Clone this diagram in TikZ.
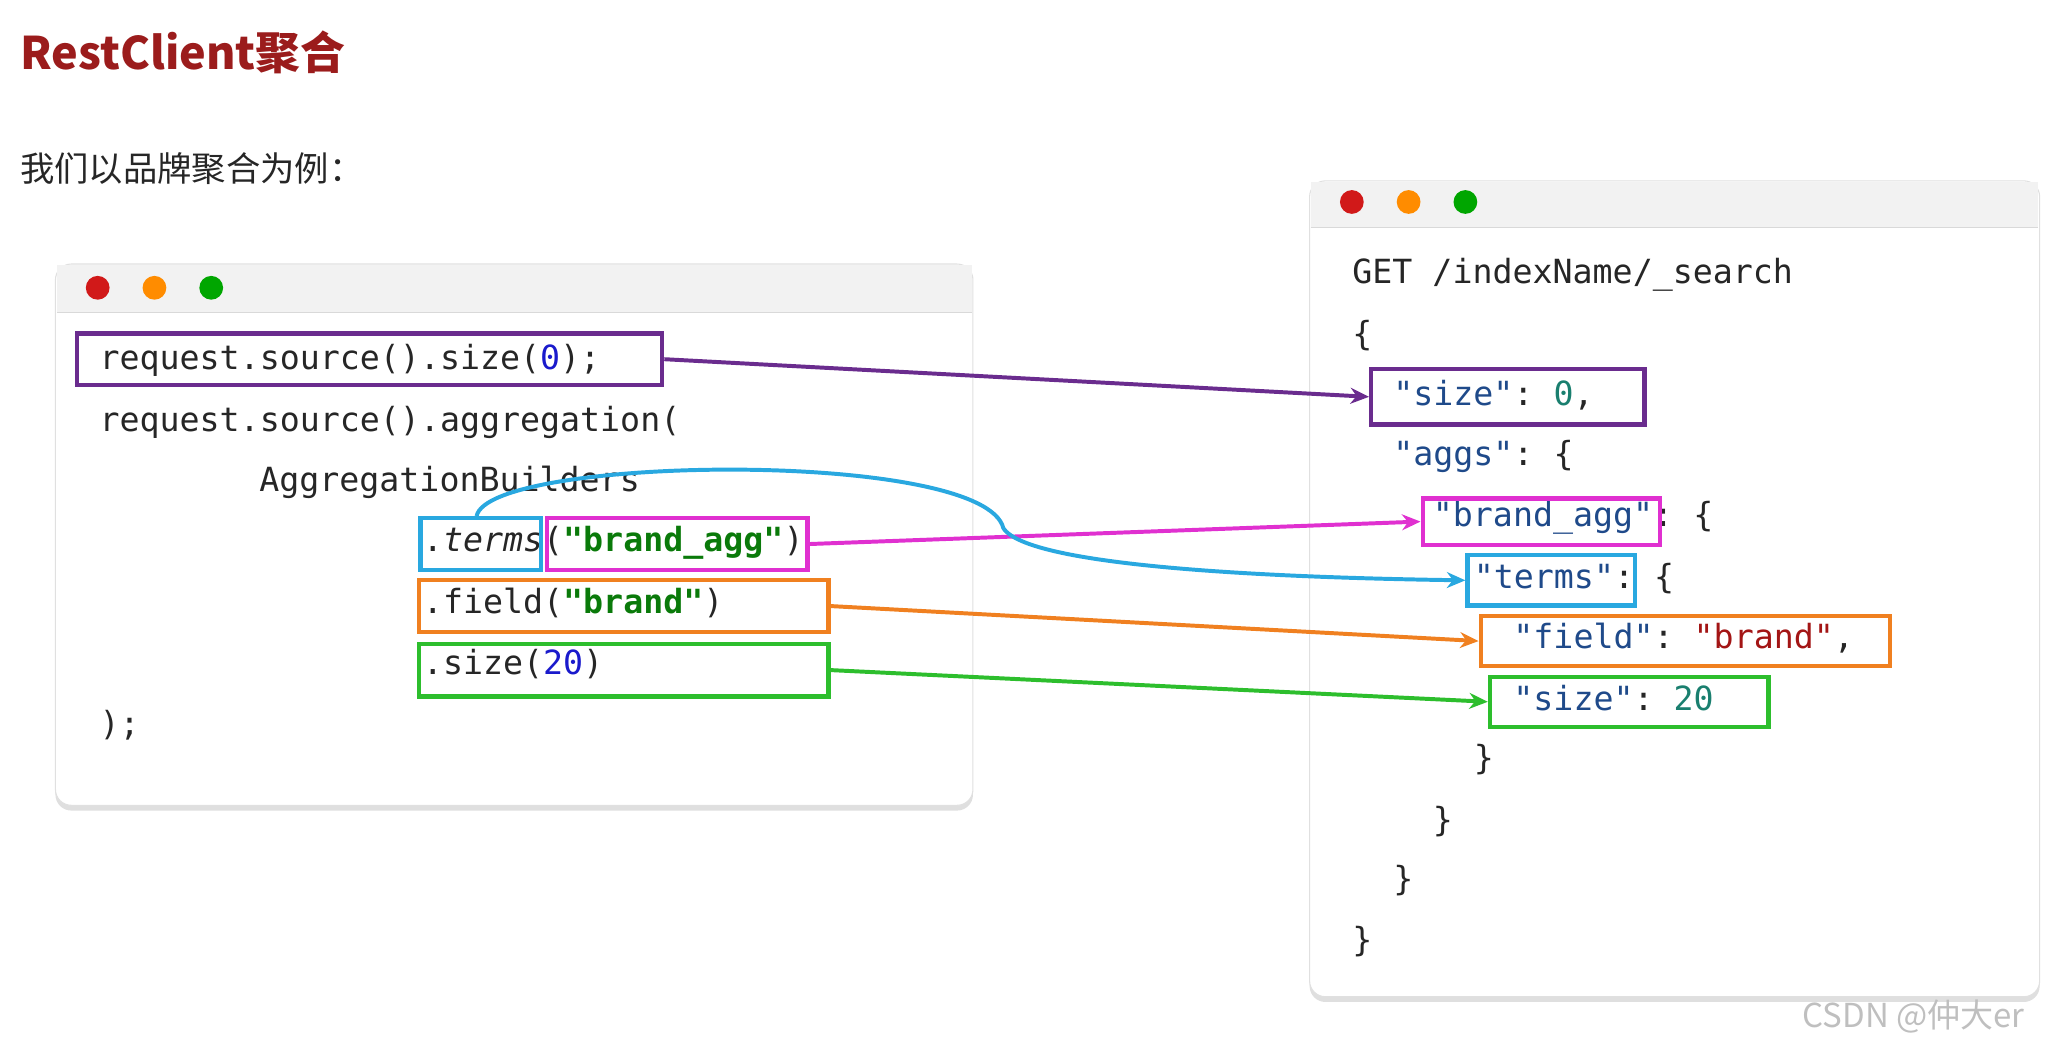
\documentclass[tikz,border=0pt]{standalone}
\usepackage{fontspec}
\setmainfont{Noto Sans CJK SC}
\newfontfamily\cjk{Noto Sans CJK SC}
\setmonofont{DejaVu Sans Mono}
\usetikzlibrary{shadows,arrows.meta}
\definecolor{cpur}{HTML}{6A2C8E}
\definecolor{ccya}{HTML}{29A8E0}
\definecolor{cmag}{HTML}{E030D0}
\definecolor{cora}{HTML}{F08020}
\definecolor{cgre}{HTML}{2DBE2D}
\definecolor{ctitle}{HTML}{9B1C1C}
\definecolor{ckey}{HTML}{1F4A8A}
\definecolor{cnum}{HTML}{1A7F6F}
\definecolor{cstr}{HTML}{A31515}
\definecolor{cgstr}{HTML}{0A7A0A}
\definecolor{cblue}{HTML}{1A1ACC}
\begin{document}
\begin{tikzpicture}[x=0.5pt,y=-0.5pt,
 code/.style={anchor=west,inner sep=0pt,font=\ttfamily\fontsize{12.6}{14}\selectfont,text=black!85},
 win/.style={draw=black!12,fill=white,rounded corners=6pt,drop shadow={opacity=0.25,shadow xshift=0pt,shadow yshift=-2pt}},
 bar/.style={fill=black!5,draw=none},
 hb/.style={draw=#1,line width=1.6pt},
 con/.style={draw=#1,line width=1.5pt,-{Stealth[length=7pt,width=6pt]}},
 dot/.style={circle,minimum size=9pt,inner sep=0pt,fill=#1}]
\useasboundingbox (0,0) rectangle (1568,795);
\node[anchor=west,inner sep=0pt,text=ctitle,font=\cjk\bfseries\fontsize{17}{20}\selectfont] (title) at (15,40) {RestClient聚合};
\node[anchor=west,inner sep=0pt,text=black!85,font=\cjk\fontsize{13}{16}\selectfont] (sub) at (15,128) {我们以品牌聚合为例：};
% left window
\path[win] (42,200) rectangle (737,610);
\path[bar] (43,201) -- (736,201) -- (736,237) -- (43,237) -- cycle;
\draw[black!15] (43,237) -- (736,237);
\node[dot=red!80!black!90] (l1) at (74,218) {};
\node[dot=orange!90!yellow] (l2) at (117,218) {};
\node[dot=green!65!black] (l3) at (160,218) {};
\node[code] (a1) at (75,273) {request.source().size(\textcolor{cblue}{0});};
\node[code] (a2) at (75,320) {request.source().aggregation(};
\node[code] (a3) at (196,365) {AggregationBuilders};
\node[code] (a4) at (320,411) {.\textit{terms}(\textcolor{cgstr}{\bfseries"brand\_agg"})};
\node[code] (a5) at (320,457) {.field(\textcolor{cgstr}{\bfseries"brand"})};
\node[code] (a6) at (320,503) {.size(\textcolor{cblue}{20})};
\node[code] (a7) at (75,549) {);};
% right window
\path[win] (992,137) rectangle (1545,755);
\path[bar] (993,138) -- (1544,138) -- (1544,172) -- (993,172) -- cycle;
\draw[black!15] (993,172) -- (1544,172);
\node[dot=red!80!black!90] (r1) at (1024,153) {};
\node[dot=orange!90!yellow] (r2) at (1067,153) {};
\node[dot=green!65!black] (r3) at (1110,153) {};
\node[code] (b1) at (1024,208) {GET /indexName/\_search};
\node[code] (b2) at (1024,254) {\{};
\node[code] (b3) at (1055,299) {\textcolor{ckey}{"size"}: \textcolor{cnum}{0},};
\node[code] (b4) at (1055,346) {\textcolor{ckey}{"aggs"}: \{};
\node[code] (b5) at (1085,392) {\textcolor{ckey}{"brand\_agg"}: \{};
\node[code] (b6) at (1116,438) {\textcolor{ckey}{"terms"}: \{};
\node[code] (b7) at (1146,483) {\textcolor{ckey}{"field"}: \textcolor{cstr}{"brand"},};
\node[code] (b8) at (1146,529) {\textcolor{ckey}{"size"}: \textcolor{cnum}{20}};
\node[code] (b9) at (1116,575) {\}};
\node[code] (b10) at (1085,622) {\}};
\node[code] (b11) at (1055,667) {\}};
\node[code] (b12) at (1024,713) {\}};
% highlight boxes
\node[hb=cpur,inner sep=0pt,minimum width=443pt*0.5,minimum height=39pt*0.5,anchor=north west] (pL) at (57,251) {};
\node[hb=ccya,inner sep=0pt,minimum width=91pt*0.5,minimum height=39pt*0.5,anchor=north west] (cL) at (317,391) {};
\node[hb=cmag,inner sep=0pt,minimum width=197pt*0.5,minimum height=39pt*0.5,anchor=north west] (mL) at (413,391) {};
\node[hb=cora,inner sep=0pt,minimum width=310pt*0.5,minimum height=39pt*0.5,anchor=north west] (oL) at (316,438) {};
\node[hb=cgre,inner sep=0pt,minimum width=310pt*0.5,minimum height=40pt*0.5,anchor=north west] (gL) at (316,486) {};
\node[hb=cpur,inner sep=0pt,minimum width=207pt*0.5,minimum height=42pt*0.5,anchor=north west] (pR) at (1037,278) {};
\node[hb=cmag,inner sep=0pt,minimum width=180pt*0.5,minimum height=35pt*0.5,anchor=north west] (mR) at (1076,376) {};
\node[hb=ccya,inner sep=0pt,minimum width=127pt*0.5,minimum height=38pt*0.5,anchor=north west] (cR) at (1110,419) {};
\node[hb=cora,inner sep=0pt,minimum width=310pt*0.5,minimum height=38pt*0.5,anchor=north west] (oR) at (1120,465) {};
\node[hb=cgre,inner sep=0pt,minimum width=211pt*0.5,minimum height=38pt*0.5,anchor=north west] (gR) at (1127,511) {};
% connectors
\draw[con=cpur] (pL.east) -- (pR.west);
\draw[con=cmag] (mL.east) -- (mR.west);
\draw[con=cora] (oL.east) -- (oR.west);
\draw[con=cgre] (gL.east) -- (gR.west);
\draw[con=ccya] ([xshift=22pt]cL.north west) .. controls (370,345) and (745,340) .. (760,400) .. controls (780,432) and (1000,438) .. (cR.west);
\node[anchor=west,inner sep=0pt,text=black!25,font=\cjk\fontsize{12.5}{15}\selectfont] (wm) at (1365,770) {CSDN @仲大er};
\end{tikzpicture}
\end{document}
